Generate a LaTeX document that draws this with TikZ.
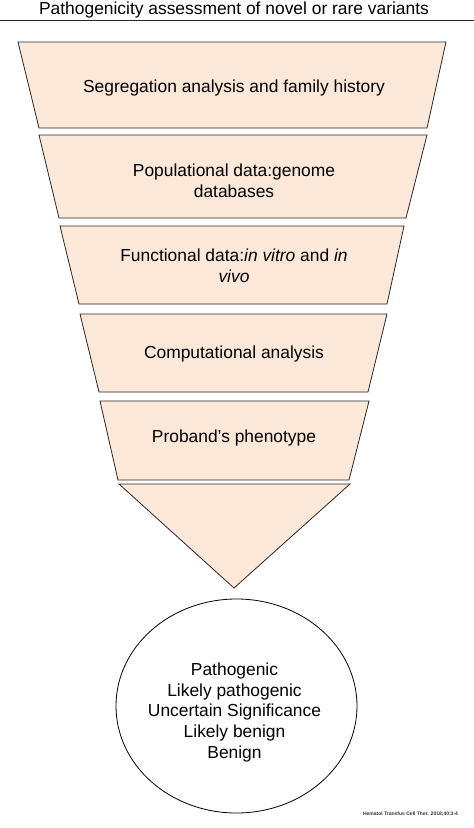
\documentclass[tikz,border=0pt]{standalone}
\usepackage{fontspec}
\setmainfont{Liberation Sans}
\usetikzlibrary{shapes.geometric}
\definecolor{peach}{RGB}{252,232,216}
\definecolor{edge}{RGB}{40,40,40}
\tikzset{
  band/.style={draw=edge, line width=0.8pt, fill=peach, line join=miter},
  lbl/.style={font=\fontsize{17.4}{20.7}\selectfont, align=center, inner sep=0pt, anchor=base, text=black},
}
\begin{document}
\begin{tikzpicture}[x=1pt,y=-1pt]
\useasboundingbox (0,0) rectangle (474,828);
% title
\node[lbl] (title) at (234,14.5) {Pathogenicity assessment of novel or rare variants};
\coordinate (tl) at (0,20);
\coordinate (tr) at (474,20);
\draw[edge, line width=0.8pt] (tl) -- (tr);
% bands
\draw[band] (18,42) -- (446,42) -- (427,128) -- (39,128) -- cycle;
\draw[band] (39,135) -- (427,135) -- (406,218) -- (59,218) -- cycle;
\draw[band] (60,226) -- (404,226) -- (387,304) -- (79,304) -- cycle;
\draw[band] (80,314) -- (387,314) -- (368,392) -- (99,392) -- cycle;
\draw[band] (100,401) -- (369,401) -- (349,480) -- (118,480) -- cycle;
\draw[band] (119,484) -- (350,484) -- (234,588) -- cycle;
\node[lbl] (seg) at (234,92) {Segregation analysis and family history};
\node[lbl] (pop) at (234,197.3) {Populational data:genome\\databases};
\node[lbl] (fun) at (234,282.3) {Functional data:\textit{in vitro} and \textit{in}\\\textit{vivo}};
\node[lbl] (comp) at (234,358.3) {Computational analysis};
\node[lbl] (prob) at (234,442.7) {Proband’s phenotype};
% result ellipse
\node[ellipse, draw=black, line width=0.8pt, minimum width=241pt, minimum height=214pt, inner sep=0pt] (res) at (236.5,706) {};
\node[lbl] (restext) at (234.5,758.3) {Pathogenic\\Likely pathogenic\\Uncertain Significance\\Likely benign\\Benign};
% footer
\node[font=\fontsize{5}{6}\selectfont\bfseries, text=black!80, inner sep=0pt, anchor=base] (foot) at (410.5,815.5) {Hematol Transfus Cell Ther. 2018;40:3-4};
\end{tikzpicture}
\end{document}
